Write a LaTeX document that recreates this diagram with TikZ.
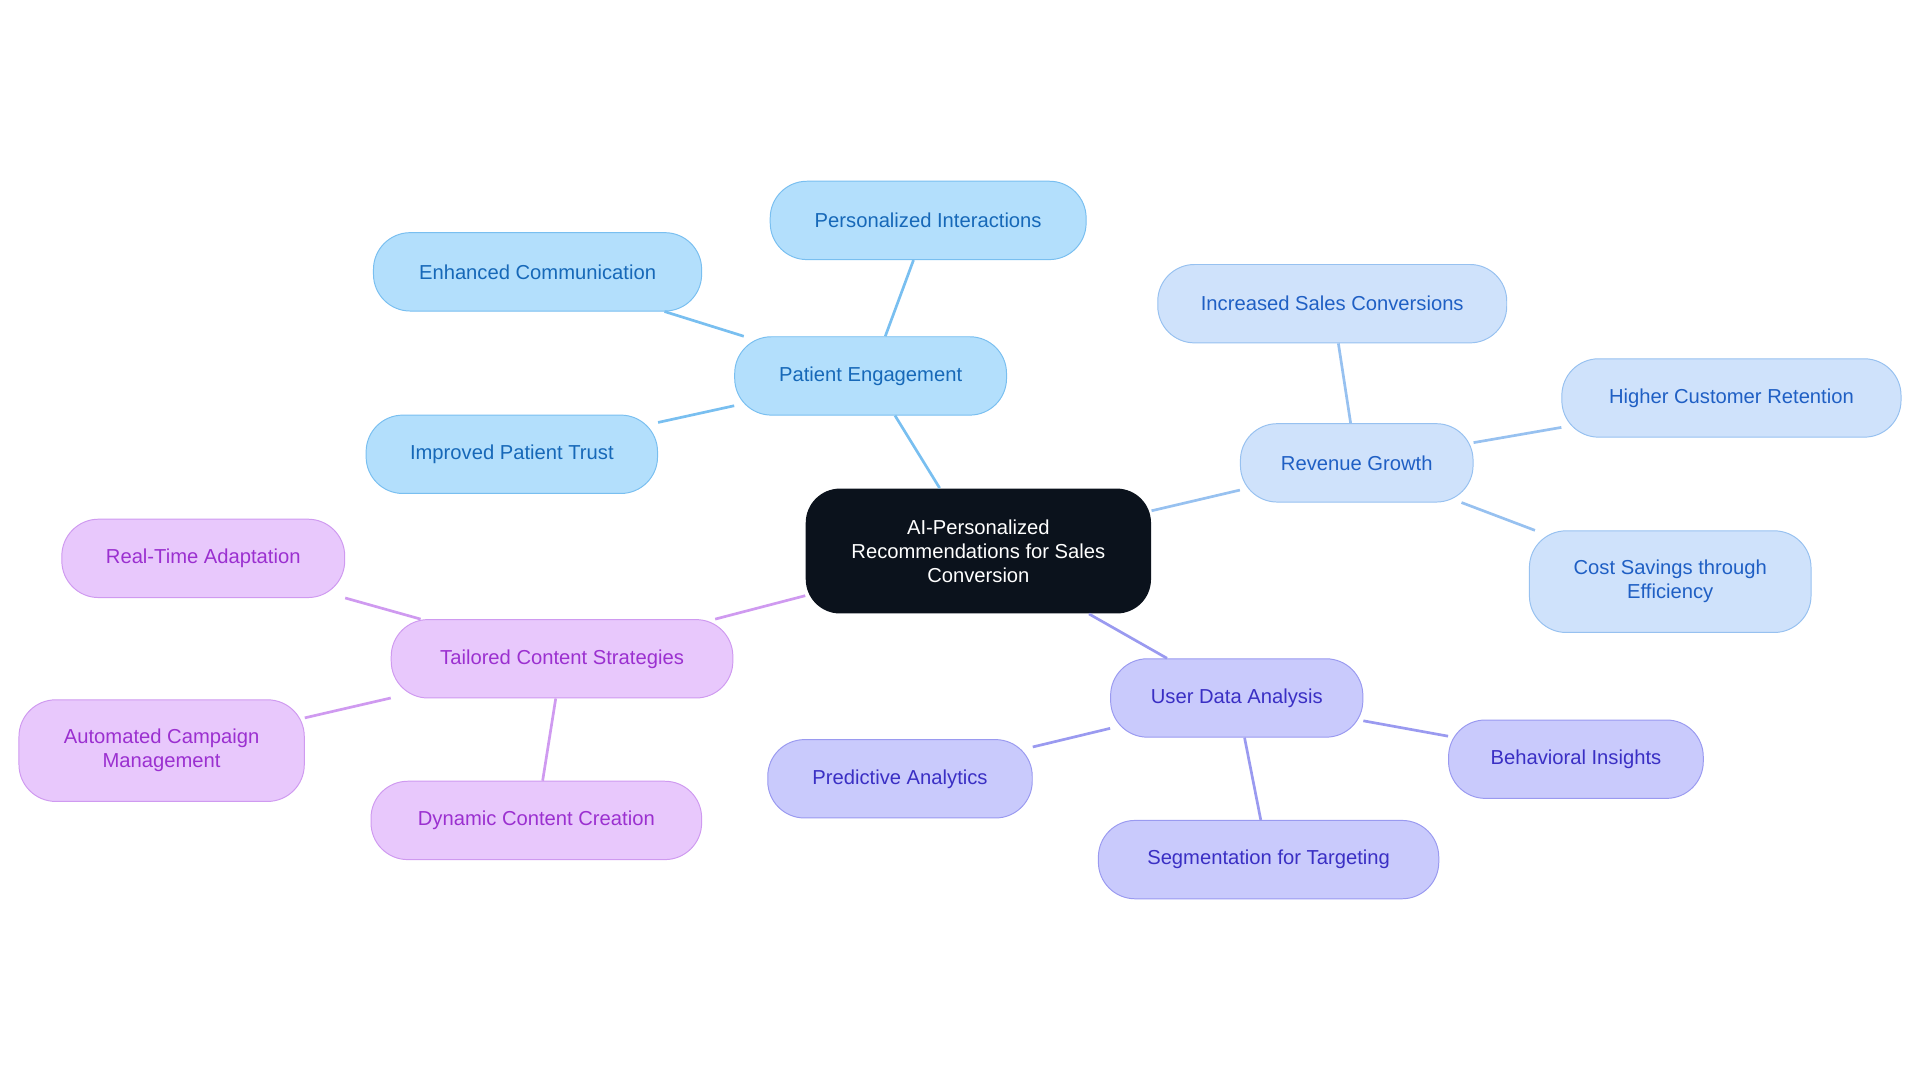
\documentclass[tikz,border=0pt]{standalone}
\usepackage{fontspec}
\setmainfont{Liberation Sans}
\usetikzlibrary{positioning}
\definecolor{rootfill}{HTML}{0B121C}
\definecolor{peFill}{HTML}{B3DFFC}\definecolor{peLine}{HTML}{79BFF0}\definecolor{peText}{HTML}{1668B8}
\definecolor{rgFill}{HTML}{CFE2FB}\definecolor{rgLine}{HTML}{97C1F0}\definecolor{rgText}{HTML}{1F5FC4}
\definecolor{udFill}{HTML}{C9CAFC}\definecolor{udLine}{HTML}{9A9AF0}\definecolor{udText}{HTML}{3A2FC4}
\definecolor{tcFill}{HTML}{E8C8FC}\definecolor{tcLine}{HTML}{CF9AF0}\definecolor{tcText}{HTML}{9B30D0}

\begin{document}
\begin{tikzpicture}[x=1pt,y=-1pt,
	every node/.style={rounded corners=30pt,minimum height=64pt,align=center,
		font=\fontsize{16.5}{19.5}\selectfont,line width=0.8pt},
	root/.style={fill=rootfill,text=white,minimum height=102pt,minimum width=282pt,rounded corners=28pt},
	pe/.style={draw=peLine,fill=peFill,text=peText},
	rg/.style={draw=rgLine,fill=rgFill,text=rgText},
	ud/.style={draw=udLine,fill=udFill,text=udText},
	tc/.style={draw=tcLine,fill=tcFill,text=tcText},
	link/.style={line width=2.2pt}]
	\useasboundingbox (0,0) rectangle (1568,884);
	% centre
	\node[root] (root) at (799,450) {AI-Personalized\\Recommendations for Sales\\Conversion};
	% branches
	\node[pe,minimum width=222pt] (pat) at (711,307) {Patient Engagement};
	\node[pe,minimum width=258pt] (pers) at (758,180) {Personalized Interactions};
	\node[pe,minimum width=268pt] (comm) at (439,222) {Enhanced Communication};
	\node[pe,minimum width=238pt] (trust) at (418,371) {Improved Patient Trust};
	\node[rg,minimum width=190pt] (rev) at (1108,378) {Revenue Growth};
	\node[rg,minimum width=285pt] (sales) at (1088,248) {Increased Sales Conversions};
	\node[rg,minimum width=277pt] (ret) at (1414,325) {Higher Customer Retention};
	\node[rg,minimum width=230pt,minimum height=83pt] (cost) at (1364,475) {Cost Savings through\\Efficiency};
	\node[ud,minimum width=206pt] (user) at (1010,570) {User Data Analysis};
	\node[ud,minimum width=216pt] (pred) at (735,636) {Predictive Analytics};
	\node[ud,minimum width=278pt] (seg) at (1036,702) {Segmentation for Targeting};
	\node[ud,minimum width=208pt] (beh) at (1287,620) {Behavioral Insights};
	\node[tc,minimum width=279pt] (tail) at (459,538) {Tailored Content Strategies};
	\node[tc,minimum width=231pt] (real) at (166,456) {Real-Time Adaptation};
	\node[tc,minimum width=233pt,minimum height=83pt] (auto) at (132,613) {Automated Campaign\\Management};
	\node[tc,minimum width=270pt] (dyn) at (438,670) {Dynamic Content Creation};
	% links
	\begin{scope}[on background layer/.style={}]
	\draw[link,peLine] (root) -- (pat);
	\foreach \n in {pers,comm,trust} \draw[link,peLine] (pat) -- (\n);
	\draw[link,rgLine] (root) -- (rev);
	\foreach \n in {sales,ret,cost} \draw[link,rgLine] (rev) -- (\n);
	\draw[link,udLine] (root) -- (user);
	\foreach \n in {pred,seg,beh} \draw[link,udLine] (user) -- (\n);
	\draw[link,tcLine] (root) -- (tail);
	\foreach \n in {real,auto,dyn} \draw[link,tcLine] (tail) -- (\n);
	\end{scope}
\end{tikzpicture}
\end{document}
